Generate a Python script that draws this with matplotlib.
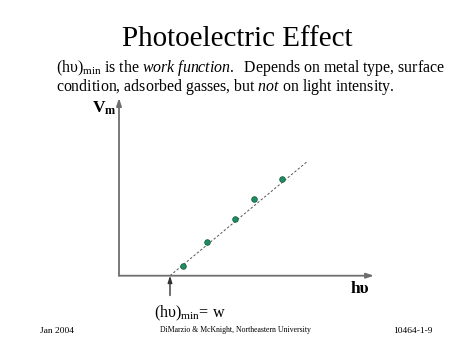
import matplotlib
matplotlib.use('Agg')
import matplotlib.pyplot as plt

# data (arbitrary units)
h_nu = [2.52, 3.46, 4.55, 5.31, 6.40]
v_m = [0.39, 1.32, 2.23, 3.02, 3.80]
fit_x = [2.0, 7.41]
fit_y = [0.0, 4.52]
threshold = 2.0

plt.rcParams['font.family'] = ['Liberation Serif', 'DejaVu Serif']
plt.rcParams['mathtext.fontset'] = 'custom'
plt.rcParams['mathtext.rm'] = 'Liberation Serif'
plt.rcParams['mathtext.it'] = 'Liberation Serif:italic'
plt.rcParams['mathtext.bf'] = 'Liberation Serif:bold'

W, H = 474, 355
fig = plt.figure(figsize=(W / 100, H / 100), dpi=100)


def px(x, y):
    # pixel position -> figure fraction
    return x / W, 1 - y / H


# plot area
ax = fig.add_axes([119 / W, 1 - 275.7 / H, (374 - 119) / W, (275.7 - 98) / H])
ax.set_xlim(0, 10)
ax.set_ylim(0, 7)
for s in ax.spines.values():
    s.set_visible(False)
ax.set_xticks([])
ax.set_yticks([])
ax.patch.set_alpha(0)

axis_col = '#6e6e6e'
arrow = dict(arrowstyle='-|>,head_length=0.45,head_width=0.15', color=axis_col, lw=1.3,
             shrinkA=0, shrinkB=0)
ax.annotate('', xy=(0, 1), xytext=(0, 0), xycoords='axes fraction', arrowprops=arrow)
ax.annotate('', xy=(1, 0), xytext=(0, 0), xycoords='axes fraction', arrowprops=arrow)

ax.plot(fit_x, fit_y, color='#555555', lw=0.7, ls=(0, (2.5, 2)))
ax.plot(h_nu, v_m, 'o', ms=4, color='#1f8f62', mec='#145c3f', mew=0.6)

# threshold arrow under the axis
ax.annotate('', xy=(threshold, 0), xytext=(threshold, -0.78),
            arrowprops=dict(arrowstyle='-|>,head_length=0.4,head_width=0.13',
                            color='#333333', lw=1.0, shrinkA=0, shrinkB=0),
            annotation_clip=False)

# slide texts
fig.text(*px(237, 39), 'Photoelectric Effect', fontsize=20.9, ha='center', va='center')
fig.text(*px(56, 68), r'(hυ)$_{\mathrm{min}}$ is the $\mathit{work\ function.}$  Depends on metal type, surface',
         fontsize=11.4, ha='left', va='center')
fig.text(*px(56, 87), r'condition, adsorbed gasses, but $\mathit{not}$ on light intensity.',
         fontsize=11.4, ha='left', va='center')
fig.text(*px(92, 108), r'$\mathbf{V_m}$', fontsize=12.5, ha='left', va='center')
fig.text(*px(360, 289), 'hυ', fontsize=12.5, fontweight='bold', ha='center', va='center')
fig.text(*px(154, 313), r'(hυ)$_{\mathrm{min}}$= w', fontsize=11.6, ha='left', va='center')

fig.text(*px(40, 331), 'Jan 2004', fontsize=6.8, ha='left', va='center')
fig.text(*px(235, 330), 'DiMarzio & McKnight, Northeastern University', fontsize=5.6,
         ha='center', va='center')
fig.text(*px(433, 331), '10464-1-9', fontsize=6.8, ha='right', va='center')

fig.savefig('out.png', dpi=100)
